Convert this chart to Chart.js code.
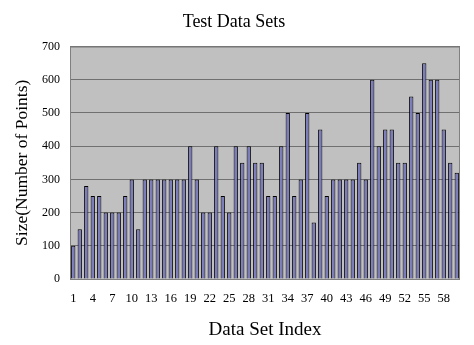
<!DOCTYPE html>
<html>
<head>
<meta charset="utf-8">
<script src="https://cdn.jsdelivr.net/npm/chart.js@4/dist/chart.umd.min.js"></script>
<style>
  html, body { margin: 0; padding: 0; background: #fff; }
  #wrap { width: 474px; height: 345px; }
</style>
</head>
<body>
<div id="wrap"><canvas id="myChart" width="474" height="345"></canvas></div>
<script>
// data
var labels = [];
for (var i = 1; i <= 60; i++) labels.push(String(i));

var sizes = [
  100, 150, 280, 250, 250, 200, 200, 200, 250, 300,
  150, 300, 300, 300, 300, 300, 300, 300, 400, 300,
  200, 200, 400, 250, 200, 400, 350, 400, 350, 350,
  250, 250, 400, 500, 250, 300, 500, 170, 450, 250,
  300, 300, 300, 300, 350, 300, 600, 400, 450, 450,
  350, 350, 550, 500, 650, 600, 600, 450, 350, 320
];

var chartTitle = 'Test Data Sets';
var xTitle = 'Data Set Index';
var yTitle = 'Size(Number of Points)';

var serif = '"Liberation Serif", "DejaVu Serif", serif';

// gray plot background with a frame
var plotBox = {
  id: 'plotBox',
  beforeDraw: function (chart) {
    var a = chart.chartArea, ctx = chart.ctx;
    ctx.save();
    ctx.fillStyle = '#c0c0c0';
    ctx.fillRect(a.left, a.top, a.right - a.left, a.bottom - a.top);
    ctx.restore();
  },
  afterDatasetsDraw: function (chart) {
    var a = chart.chartArea, ctx = chart.ctx;
    ctx.save();
    ctx.strokeStyle = '#808080';
    ctx.lineWidth = 1;
    ctx.strokeRect(a.left + 0.5, a.top + 0.5, a.right - a.left - 1, a.bottom - a.top);
    ctx.restore();
  }
};

var ctx = document.getElementById('myChart').getContext('2d');
var myChart = new Chart(ctx, {
  type: 'bar',
  data: {
    labels: labels,
    datasets: [{
      data: sizes,
      backgroundColor: '#7b7bbb',
      borderColor: '#000000',
      borderWidth: 1,
      barPercentage: 0.66,
      categoryPercentage: 1.0
    }]
  },
  options: {
    responsive: false,
    animation: false,
    layout: { padding: { top: 5, right: 14, left: 8, bottom: 0 } },
    plugins: {
      legend: { display: false },
      tooltip: { enabled: false },
      title: {
        display: true,
        text: chartTitle,
        color: '#000',
        font: { family: serif, size: 18, weight: 'normal' },
        padding: { top: 6, bottom: 14 }
      }
    },
    scales: {
      x: {
        grid: { display: false, drawTicks: false },
        border: { display: false },
        ticks: {
          autoSkip: false,
          maxRotation: 0,
          color: '#000',
          padding: 12,
          font: { family: serif, size: 12.5 },
          callback: function (v, i) { return i % 3 === 0 ? labels[i] : ''; }
        },
        title: {
          display: true,
          text: xTitle,
          color: '#000',
          font: { family: serif, size: 19 },
          padding: { top: 6 }
        },
        afterFit: function (s) { s.height = 66; }
      },
      y: {
        min: 0,
        max: 700,
        grid: { color: '#707070', drawTicks: false },
        border: { display: false },
        ticks: {
          stepSize: 100,
          color: '#000',
          padding: 10,
          font: { family: serif, size: 12 }
        },
        title: {
          display: true,
          text: yTitle,
          color: '#000',
          font: { family: serif, size: 17.5 },
          padding: { bottom: 4 }
        },
        afterFit: function (s) { s.width = 62; }
      }
    }
  },
  plugins: [plotBox]
});
</script>
</body>
</html>
